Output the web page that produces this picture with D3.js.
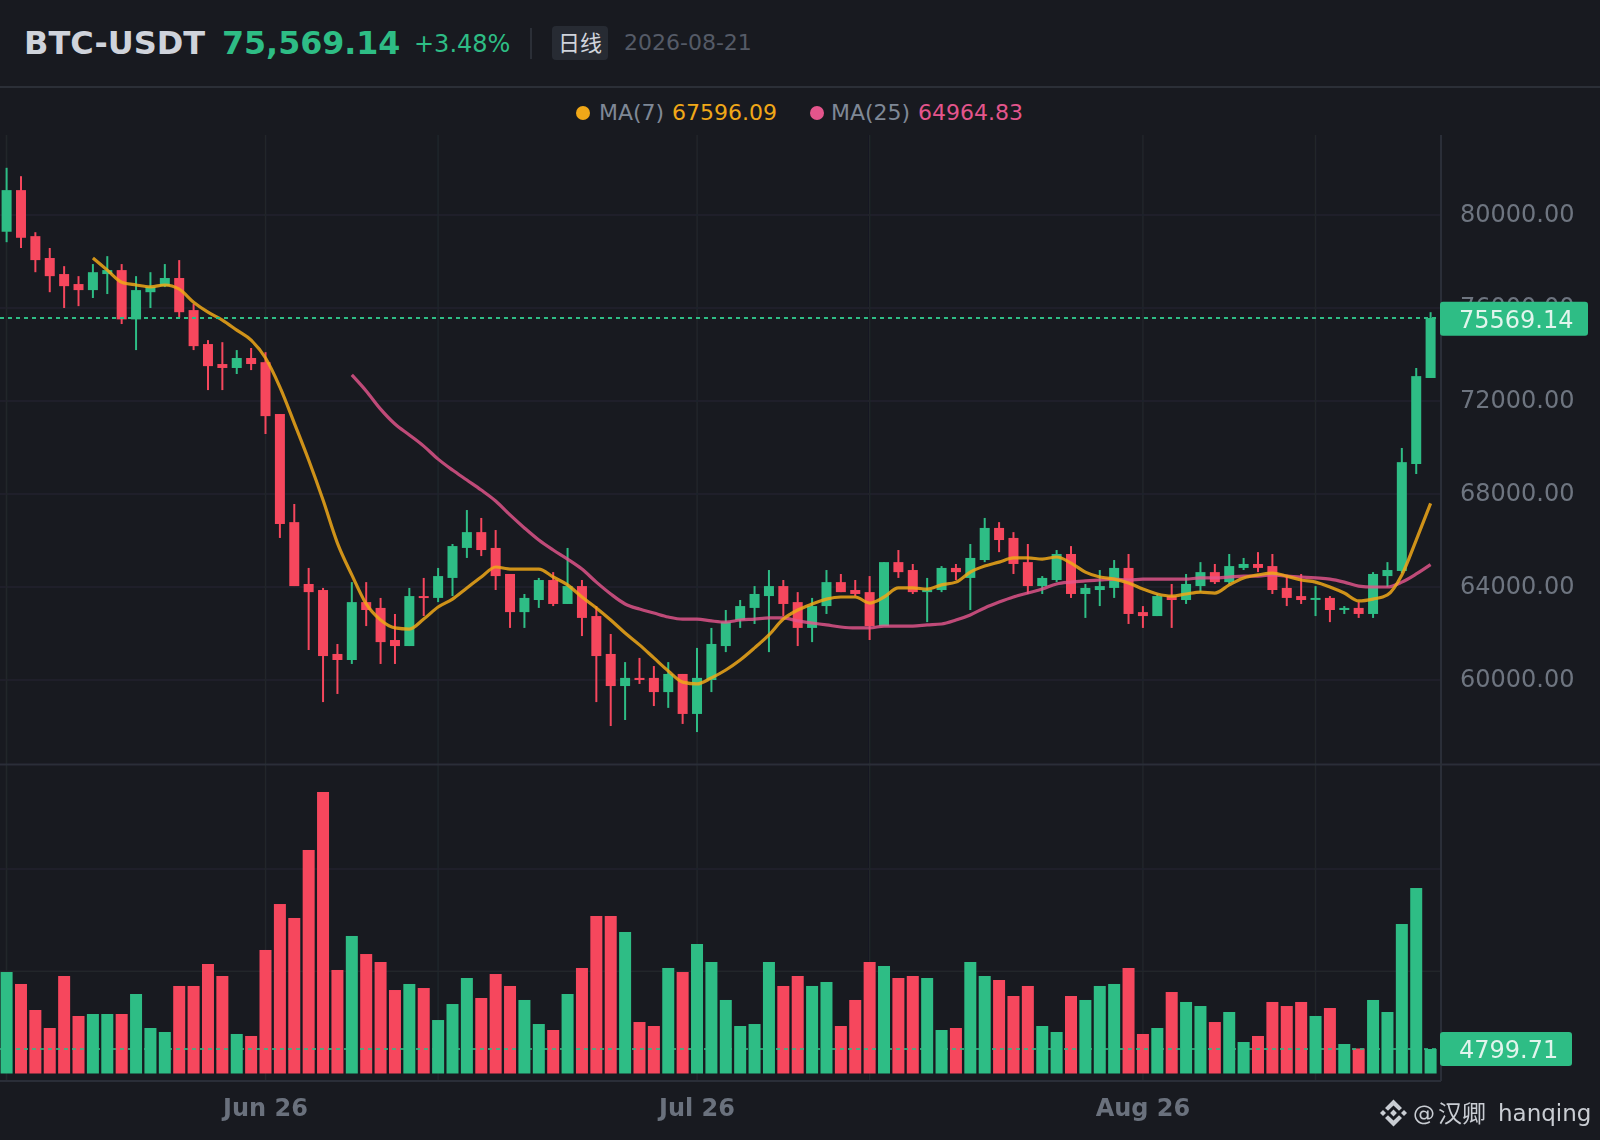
<!DOCTYPE html>
<html>
<head>
<meta charset="utf-8">
<script src="https://cdn.jsdelivr.net/npm/d3@7"></script>
<style>
  html, body { margin: 0; padding: 0; background: #181a20; }
  svg { display: block; }
  text { font-family: "DejaVu Sans", "Noto Sans CJK SC", sans-serif; }
</style>
</head>
<body>
<div id="chart"></div>
<script>
// daily candles
var opens = [
  79280,81070,79090,78150,77460,77030,76770,77460,77630,75510,
  76680,76940,77290,75910,74450,73590,73420,73850,73670,71440,
  66790,64130,63870,61120,60860,63350,63100,61720,61460,63610,
  63530,64390,65680,66360,65680,64560,62920,63440,64300,63270,
  64040,62750,61120,59740,60090,60090,59480,60260,58540,60000,
  61460,62580,63100,63610,64040,63350,62240,63180,64210,63870,
  63780,62320,65070,64730,63780,63870,64820,64390,65160,66540,
  66110,65070,64040,64300,65420,63700,63870,63960,64820,62920,
  62750,63610,63440,64040,64640,64210,64820,64990,64900,63960,
  63610,63460,63530,63010,63100,62840,64470,64690,69290,72990];
var highs = [
  82030,81670,79260,78580,77800,77370,77890,78230,77890,77370,
  77540,77890,78060,76170,74620,74530,74190,74280,74100,71440,
  67570,64820,63960,61550,64210,64210,63530,62840,63960,64390,
  64820,65850,67310,66970,66450,64560,63700,64390,64640,65680,
  64300,63180,61980,60770,60950,60600,60770,60260,61380,62240,
  63010,63440,64040,64730,64300,63780,63530,64730,64560,64300,
  64470,65070,65590,64990,64390,64900,64990,65850,66970,66790,
  66360,65850,64470,65590,65760,64130,64730,65160,65420,63180,
  63700,64130,64560,65070,64990,65420,65250,65500,65420,64470,
  64560,64040,63610,63180,63350,64640,65070,69980,73420,75820];
var lows = [
  78830,78580,77540,76680,76000,76080,76430,76600,75310,74190,
  76000,76900,75570,74190,72470,72470,73160,73330,70580,66110,
  64040,61290,59050,59400,60690,62320,60690,60690,61460,62750,
  63350,63610,65250,65330,63870,62240,62240,63100,63180,63270,
  61890,59050,58020,58280,59830,58880,58800,58110,57760,59480,
  61200,62240,62410,61200,62750,61460,61630,62840,63780,63610,
  61720,62320,64390,63700,62490,63780,64300,63010,65070,65500,
  64560,63700,63700,64210,63530,62670,63180,63530,62410,62240,
  62750,62240,63270,63780,64130,64130,64730,64640,63700,63180,
  63270,62750,62490,62840,62670,62670,64000,64600,68860,72990];
var closes = [
  81070,79020,78060,77370,76940,76770,77540,77630,75510,76770,
  76910,77290,75820,74360,73500,73420,73850,73590,71350,66710,
  64040,63780,61030,60860,63350,63010,61630,61460,63610,63530,
  64470,65760,66360,65590,64470,62920,63530,64300,63270,64040,
  62670,61030,59740,60090,60000,59480,60260,58540,60090,61550,
  62490,63180,63700,64040,63270,62240,63180,64210,63780,63700,
  62320,65070,64640,63780,63870,64820,64640,65250,66540,66020,
  64990,64040,64390,65420,63700,63960,64040,64820,62840,62750,
  63610,63440,64130,64640,64210,64900,64990,64820,63870,63530,
  63440,63530,63010,63100,62840,64560,64730,69370,73070,75569.14];
var volumes = [
  19850,17510,12420,8900,19070,11250,11640,11640,11640,15550,
  8900,8120,17120,17120,21420,19070,7730,7340,24160,33150,
  30420,43720,55060,20250,26900,23370,21810,16330,17510,16720,
  10460,13590,18680,14770,19460,17120,14380,9680,8510,15550,
  20640,30810,30810,27680,10070,9290,20640,19850,25330,21810,
  14380,9290,9680,21810,17120,19070,17120,17900,9290,14380,
  21810,21030,18680,19070,18680,8510,8900,21810,19070,18290,
  15160,17120,9290,8120,15160,14380,17120,17510,20640,7730,
  8900,15940,13990,13200,10070,12030,6160,7340,13990,13200,
  13990,11250,12810,5770,4900,14380,12030,29240,36280,4799.71];

// moving averages start once they have enough days
var ma7 = [
  null,null,null,null,null,null,78150,77630,77110,76990,
  76910,76990,76810,76250,75820,75480,75050,74620,73850,72600,
  71050,69460,67740,65890,64520,63270,62580,62240,62190,62620,
  63140,63480,63960,64430,64860,64770,64770,64770,64430,64090,
  63570,63100,62580,62020,61510,60950,60390,59910,59830,60090,
  60430,60860,61380,61940,62620,63010,63270,63480,63570,63570,
  63310,63570,63960,63960,63910,64090,64210,64640,64900,65070,
  65250,65250,65200,65290,65030,64640,64430,64340,64170,63910,
  63700,63610,63700,63780,63740,64090,64390,64520,64600,64470,
  64300,64210,64000,63740,63400,63480,63660,64520,66020,67596.09];
var ma25 = [
  null,null,null,null,null,null,null,null,null,null,
  null,null,null,null,null,null,null,null,null,null,
  null,null,null,null,73120,72430,71650,71010,70540,70060,
  69500,69030,68600,68170,67700,67100,66540,66020,65590,65200,
  64770,64210,63700,63270,63050,62880,62710,62620,62620,62540,
  62490,62580,62620,62670,62670,62540,62450,62370,62280,62240,
  62240,62320,62320,62320,62370,62410,62580,62800,63100,63350,
  63570,63740,63910,64130,64210,64260,64300,64340,64300,64340,
  64340,64340,64340,64390,64390,64430,64470,64470,64520,64470,
  64430,64390,64340,64210,64040,64000,64000,64210,64560,64964.83];

var priceTicks = [60000, 64000, 68000, 72000, 76000, 80000];
var volumeTicks = [20000, 40000];
var timeTicks = [0, 18, 30, 48, 60, 79, 91];
var timeLabels = ['', 'Jun 26', '', 'Jul 26', '', 'Aug 26', ''];

var symbol = 'BTC-USDT';
var lastPrice = 75569.14;
var lastVolume = 4799.71;
var changeLabel = '+3.48%';
var periodLabel = '日线';
var dateLabel = '2026-08-21';

var up = '#2ebd85', down = '#f6465d';
var gridColor = '#21252c', lineColor = '#2b2f37';
var ma7Color = '#f0a818', ma25Color = '#e4558c';

var W = 1600, H = 1140;
var plotRight = 1441, plotTop = 135, plotBottom = 1081;

var svg = d3.select('#chart').append('svg')
    .attr('width', W)
    .attr('height', H)
    .style('background', '#181a20');

// the picture's plot area is a little soft
svg.append('filter')
    .attr('id', 'soft')
    .attr('filterUnits', 'userSpaceOnUse')
    .attr('x', 0).attr('y', 0).attr('width', W).attr('height', H)
  .append('feGaussianBlur')
    .attr('stdDeviation', 0.6);

var x = d3.scaleLinear().domain([0, 99]).range([6.6, 1430.6]);
var y = d3.scaleLinear().domain([60000, 80000]).range([680, 215]);
var yVol = d3.scaleLinear().domain([0, 40000]).range([1073.5, 869]);

var idx = d3.range(opens.length);
var isUp = function(i) { return closes[i] >= opens[i]; };
var color = function(i) { return isUp(i) ? up : down; };

// ---- header ----
var head = svg.append('g');
head.append('text').attr('x', 24).attr('y', 54)
    .attr('font-size', 32).attr('font-weight', 'bold').attr('fill', '#cfd3db')
    .text(symbol);
head.append('text').attr('x', 222).attr('y', 54)
    .attr('font-size', 31.7).attr('font-weight', 'bold').attr('fill', up)
    .text(d3.format(',.2f')(lastPrice));
head.append('text').attr('x', 414).attr('y', 52)
    .attr('font-size', 24).attr('fill', up)
    .text(changeLabel);
head.append('line').attr('x1', 531).attr('x2', 531).attr('y1', 28).attr('y2', 59)
    .attr('stroke', lineColor).attr('stroke-width', 2);
head.append('rect').attr('x', 552).attr('y', 26).attr('width', 56).attr('height', 34).attr('rx', 4)
    .attr('fill', '#272b33');
head.append('text').attr('x', 580).attr('y', 51).attr('text-anchor', 'middle')
    .attr('font-size', 22).attr('fill', '#d0d4dc')
    .text(periodLabel);
head.append('text').attr('x', 624).attr('y', 50)
    .attr('font-size', 22).attr('fill', '#555b67')
    .text(dateLabel);
head.append('line').attr('x1', 0).attr('x2', W).attr('y1', 87).attr('y2', 87)
    .attr('stroke', lineColor).attr('stroke-width', 2);

// ---- legend ----
var legend = [
  {name: 'MA(7)', value: ma7[99], c: ma7Color, dot: 583, tx: 599, vx: 672},
  {name: 'MA(25)', value: ma25[99], c: ma25Color, dot: 817, tx: 831, vx: 918}
];
var leg = svg.append('g').selectAll('g').data(legend).enter().append('g');
leg.append('circle')
    .attr('cx', function(d) { return d.dot; })
    .attr('cy', 113).attr('r', 7)
    .attr('fill', function(d) { return d.c; });
leg.append('text')
    .attr('x', function(d) { return d.tx; })
    .attr('y', 120).attr('font-size', 22).attr('fill', '#7f8896')
    .text(function(d) { return d.name; });
leg.append('text')
    .attr('x', function(d) { return d.vx; })
    .attr('y', 120).attr('font-size', 22)
    .attr('fill', function(d) { return d.c; })
    .text(function(d) { return d.value.toFixed(2); });

var chart = svg.append('g').attr('filter', 'url(#soft)');

// ---- grids ----
var gridX = chart.append('g')
    .attr('transform', 'translate(0,' + plotBottom + ')')
    .call(d3.axisBottom(x).offset(0).tickValues(timeTicks).tickSize(plotTop - plotBottom).tickFormat(''));
gridX.select('.domain').remove();
gridX.selectAll('line').attr('stroke', gridColor).attr('stroke-width', 1.5);

var gridY = chart.append('g')
    .call(d3.axisLeft(y).offset(0).tickValues(priceTicks).tickSize(-plotRight).tickFormat(''));
gridY.select('.domain').remove();
gridY.selectAll('line').attr('stroke', gridColor).attr('stroke-width', 1.5);

var gridV = chart.append('g')
    .call(d3.axisLeft(yVol).offset(0).tickValues(volumeTicks).tickSize(-plotRight).tickFormat(''));
gridV.select('.domain').remove();
gridV.selectAll('line').attr('stroke', gridColor).attr('stroke-width', 1.5);

// ---- axis lines ----
chart.append('line').attr('x1', plotRight).attr('x2', plotRight).attr('y1', plotTop).attr('y2', plotBottom)
    .attr('stroke', lineColor).attr('stroke-width', 2);
chart.append('line').attr('x1', 0).attr('x2', W).attr('y1', 764.5).attr('y2', 764.5)
    .attr('stroke', lineColor).attr('stroke-width', 2);
chart.append('line').attr('x1', 0).attr('x2', plotRight).attr('y1', plotBottom).attr('y2', plotBottom)
    .attr('stroke', lineColor).attr('stroke-width', 2);

// ---- axis labels ----
var axisY = chart.append('g')
    .attr('transform', 'translate(' + plotRight + ',0)')
    .call(d3.axisRight(y).offset(0).tickValues(priceTicks).tickSize(0).tickPadding(19).tickFormat(d3.format('.2f')));
axisY.select('.domain').remove();
axisY.selectAll('text')
    .attr('dy', '0.31em')
    .style('font-family', '"DejaVu Sans", sans-serif')
    .style('font-size', '24px')
    .attr('fill', '#6e7580');

var axisX = chart.append('g')
    .attr('transform', 'translate(0,' + plotBottom + ')')
    .call(d3.axisBottom(x).offset(0).tickValues(timeTicks).tickSize(0).tickPadding(18)
      .tickFormat(function(d, i) { return timeLabels[i]; }));
axisX.select('.domain').remove();
axisX.selectAll('text')
    .style('font-family', '"DejaVu Sans", sans-serif')
    .style('font-size', '24px')
    .style('font-weight', 'bold')
    .attr('fill', '#6a717d');

// ---- volume ----
var barW = 12;
chart.append('g').selectAll('rect')
    .data(idx)
    .enter().append('rect')
    .attr('x', function(i) { return x(i) - barW / 2; })
    .attr('y', function(i) { return yVol(volumes[i]); })
    .attr('width', barW)
    .attr('height', function(i) { return yVol(0) - yVol(volumes[i]); })
    .attr('fill', color);

// ---- candles ----
var bodyW = 10;
var candles = chart.append('g').selectAll('g')
    .data(idx)
    .enter().append('g');
candles.append('line')
    .attr('x1', function(i) { return x(i); })
    .attr('x2', function(i) { return x(i); })
    .attr('y1', function(i) { return y(highs[i]); })
    .attr('y2', function(i) { return y(lows[i]); })
    .attr('stroke', color)
    .attr('stroke-width', 2);
candles.append('rect')
    .attr('x', function(i) { return x(i) - bodyW / 2; })
    .attr('y', function(i) { return y(Math.max(opens[i], closes[i])); })
    .attr('width', bodyW)
    .attr('height', function(i) { return Math.max(2, Math.abs(y(opens[i]) - y(closes[i]))); })
    .attr('fill', color);

// ---- moving averages ----
var maLine = d3.line()
    .defined(function(d) { return d != null; })
    .x(function(d, i) { return x(i); })
    .y(function(d) { return y(d); })
    .curve(d3.curveMonotoneX);

chart.append('path').datum(ma25)
    .attr('d', maLine)
    .attr('fill', 'none')
    .attr('stroke', ma25Color)
    .attr('stroke-opacity', 0.82)
    .attr('stroke-width', 3.2);
chart.append('path').datum(ma7)
    .attr('d', maLine)
    .attr('fill', 'none')
    .attr('stroke', ma7Color)
    .attr('stroke-opacity', 0.85)
    .attr('stroke-width', 3.2);

// ---- last value lines ----
chart.append('line')
    .attr('x1', 0).attr('x2', plotRight)
    .attr('y1', y(lastPrice)).attr('y2', y(lastPrice))
    .attr('stroke', up).attr('stroke-width', 2.2).attr('stroke-dasharray', '4 4');
chart.append('line')
    .attr('x1', 0).attr('x2', plotRight)
    .attr('y1', yVol(lastVolume)).attr('y2', yVol(lastVolume))
    .attr('stroke', up).attr('stroke-opacity', 0.8).attr('stroke-width', 2).attr('stroke-dasharray', '4 4');

// ---- value tags ----
var tags = [
  {v: lastPrice.toFixed(2), cy: y(lastPrice) + 0.7, w: 148, tx: 1459},
  {v: lastVolume.toFixed(2), cy: yVol(lastVolume), w: 132, tx: 1459}
];
var tag = chart.append('g').selectAll('g').data(tags).enter().append('g');
tag.append('rect')
    .attr('x', 1440)
    .attr('y', function(d) { return d.cy - 17; })
    .attr('width', function(d) { return d.w; })
    .attr('height', 34)
    .attr('rx', 3)
    .attr('fill', up);
tag.append('text')
    .attr('x', function(d) { return d.tx; })
    .attr('y', function(d) { return d.cy + 9.5; })
    .attr('font-size', 24)
    .attr('fill', '#e2f5ed')
    .text(function(d) { return d.v; });

// ---- watermark ----
var mark = svg.append('g').attr('fill', '#c9cdd3');
var logo = mark.append('g').attr('transform', 'translate(1393.5,1113)');
logo.append('path').attr('d', 'M0,-3.4L3.4,0L0,3.4L-3.4,0Z');
logo.append('path').attr('d', 'M-13.5,0L-10.5,-3L-7.5,0L-10.5,3Z');
logo.append('path').attr('d', 'M13.5,0L10.5,-3L7.5,0L10.5,3Z');
logo.append('path').attr('d', 'M0,-13.5L8.5,-5L5.5,-2.2L0,-7.6L-5.5,-2.2L-8.5,-5Z');
logo.append('path').attr('d', 'M0,13.5L8.5,5L5.5,2.2L0,7.6L-5.5,2.2L-8.5,5Z');
mark.append('text').attr('x', 1413).attr('y', 1121).attr('font-size', 22).text('@');
mark.append('text').attr('x', 1438).attr('y', 1122).attr('font-size', 24).text('汉卿');
mark.append('text').attr('x', 1498).attr('y', 1121).attr('font-size', 23).text('hanqing');
</script>
</body>
</html>
